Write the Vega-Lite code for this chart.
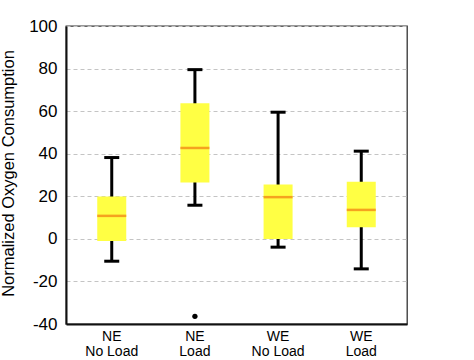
{
  "$schema": "https://vega.github.io/schema/vega-lite/v6.json",
  "width": 341,
  "height": 298,
  "autosize": {"type": "none"},
  "padding": {"left": 66, "top": 26, "right": 67, "bottom": 36},
  "background": "white",
  "config": {
    "view": {"stroke": "#333333", "strokeWidth": 1.3},
    "font": "Liberation Sans"
  },
  "data": {
    "values": [
      {"group": "NE|No Load", "lo": -10.5, "q1": -1.0, "med": 10.8, "q3": 19.9, "hi": 38.2},
      {"group": "NE|Load", "lo": 15.8, "q1": 26.5, "med": 42.7, "q3": 63.7, "hi": 79.5},
      {"group": "WE|No Load", "lo": -3.9, "q1": -0.1, "med": 19.6, "q3": 25.5, "hi": 59.5},
      {"group": "WE|Load", "lo": -14.1, "q1": 5.5, "med": 13.6, "q3": 26.8, "hi": 41.2}
    ]
  },
  "encoding": {
    "x": {
      "field": "group",
      "type": "nominal",
      "sort": null,
      "scale": {"paddingInner": 0, "paddingOuter": 0.05},
      "axis": {
        "title": null,
        "labelAngle": 0,
        "ticks": false,
        "labelExpr": "split(datum.value, '|')",
        "labelFontSize": 14,
        "labelLineHeight": 15,
        "labelColor": "#000000",
        "labelPadding": 5,
        "domainColor": "#111111",
        "domainWidth": 2.2,
        "grid": false
      }
    }
  },
  "layer": [
    {
      "mark": {"type": "rule", "color": "#000000", "strokeWidth": 3},
      "encoding": {
        "y": {
          "field": "lo",
          "type": "quantitative",
          "scale": {"domain": [-40, 100], "nice": false, "zero": false},
          "axis": {
            "title": "Normalized Oxygen Consumption",
            "titleFontSize": 16.5,
            "titleFontWeight": "normal",
            "titleColor": "#000000",
            "titleX": -50,
            "titleY": 147,
            "values": [-40, -20, 0, 20, 40, 60, 80, 100],
            "labelExpr": "datum.value + ''",
            "ticks": false,
            "labelFontSize": 17,
            "labelColor": "#000000",
            "labelPadding": 9,
            "domainColor": "#111111",
            "domainWidth": 2,
            "grid": true,
            "gridColor": "#c4c4c4",
            "gridDash": [4, 3],
            "gridWidth": 1
          }
        },
        "y2": {"field": "hi"}
      }
    },
    {
      "mark": {"type": "tick", "color": "#000000", "size": 15, "thickness": 3, "opacity": 1},
      "encoding": {"y": {"field": "hi", "type": "quantitative"}}
    },
    {
      "mark": {"type": "tick", "color": "#000000", "size": 15, "thickness": 3, "opacity": 1},
      "encoding": {"y": {"field": "lo", "type": "quantitative"}}
    },
    {
      "mark": {"type": "bar", "color": "#ffff44", "size": 29, "opacity": 1},
      "encoding": {
        "y": {"field": "q1", "type": "quantitative"},
        "y2": {"field": "q3"}
      }
    },
    {
      "mark": {"type": "tick", "color": "#f5a21f", "size": 29, "thickness": 2.5, "opacity": 1},
      "encoding": {"y": {"field": "med", "type": "quantitative"}}
    },
    {
      "data": {"values": [{"group": "NE|Load", "out": -36.4}]},
      "mark": {"type": "point", "filled": true, "color": "#000000", "size": 28, "opacity": 1},
      "encoding": {"y": {"field": "out", "type": "quantitative"}}
    }
  ]
}
